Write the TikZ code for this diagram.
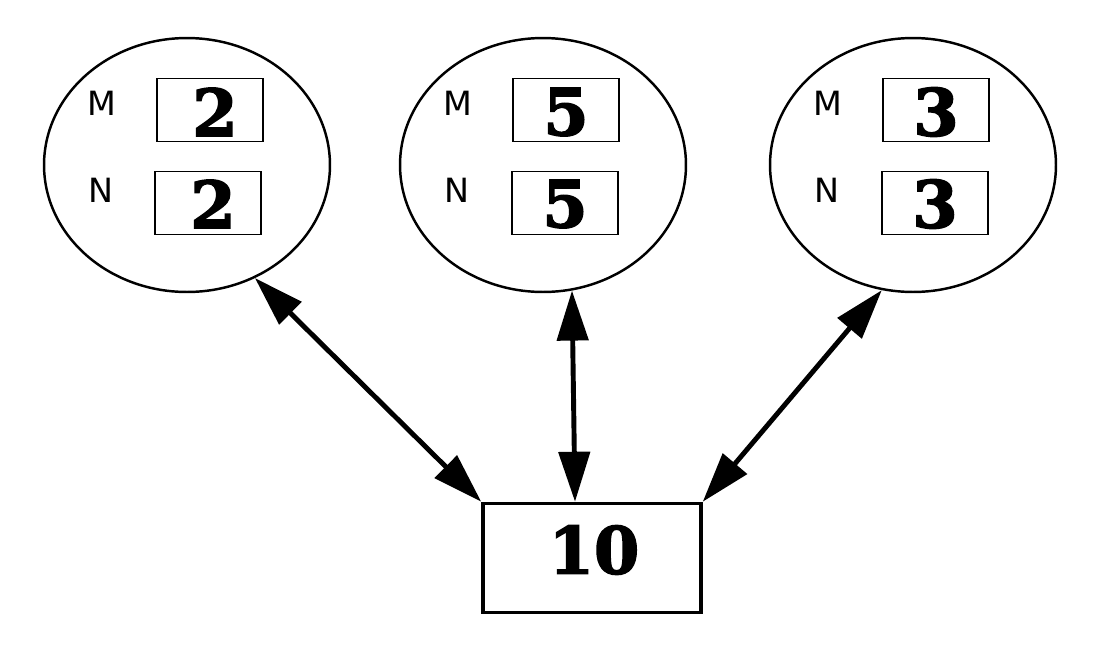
\documentclass[tikz,border=0pt]{standalone}
\usepackage{fontspec}
\setmainfont{DejaVu Sans}
\newfontfamily\digitfont{DejaVu Serif}[BoldFeatures={FakeBold=2.5}]
\usetikzlibrary{arrows.meta,shapes.geometric}
\begin{document}
\begin{tikzpicture}[x=0.02cm,y=-0.02cm,
  oval/.style={draw,ellipse,line width=1.4pt,minimum width=5.72cm,minimum height=5.08cm,inner sep=0pt},
  valbox/.style={draw,line width=0.9pt,minimum width=2.12cm,minimum height=1.26cm,inner sep=0pt},
  digit/.style={font=\digitfont\bfseries\fontsize{37}{37}\selectfont,inner sep=0pt},
  lbl/.style={font=\fontsize{19}{19}\selectfont,inner sep=0pt},
  sumbox/.style={draw,line width=2pt,minimum width=4.36cm,minimum height=2.18cm,inner sep=0pt},
  link/.style={line width=2.8pt,{Triangle[length=1cm,width=0.62cm]}-{Triangle[length=1cm,width=0.62cm]}}
]
\useasboundingbox (0,0) rectangle (1112,650);
\node[oval] (e1) at (187,165) {};
\node[oval] (e2) at (543,165) {};
\node[oval] (e3) at (913,165) {};
\node[valbox] (m1) at (210,110) {};
\node[valbox] (n1) at (208,203) {};
\node[valbox] (m2) at (566,110) {};
\node[valbox] (n2) at (565,203) {};
\node[valbox] (m3) at (936,110) {};
\node[valbox] (n3) at (935,203) {};
\node[digit] (dm1) at (215,112) {2};
\node[digit] (dn1) at (213,204) {2};
\node[digit] (dm2) at (566,112) {5};
\node[digit] (dn2) at (565,204) {5};
\node[digit] (dm3) at (936,112) {3};
\node[digit] (dn3) at (935,204) {3};
\node[lbl] (lm1) at (102,103) {M};
\node[lbl] (ln1) at (101,190) {N};
\node[lbl] (lm2) at (458,103) {M};
\node[lbl] (ln2) at (457,190) {N};
\node[lbl] (lm3) at (828,103) {M};
\node[lbl] (ln3) at (827,190) {N};
\node[sumbox] (s) at (592,558) {};
\node[digit] (st) at (594,550) {10};
\draw[link] (e1.-59) -- (s.north west);
\draw[link] (e2.-77) -- ([xshift=-0.34cm]s.north);
\draw[link] (e3.-104.5) -- (s.north east);
\end{tikzpicture}
\end{document}
